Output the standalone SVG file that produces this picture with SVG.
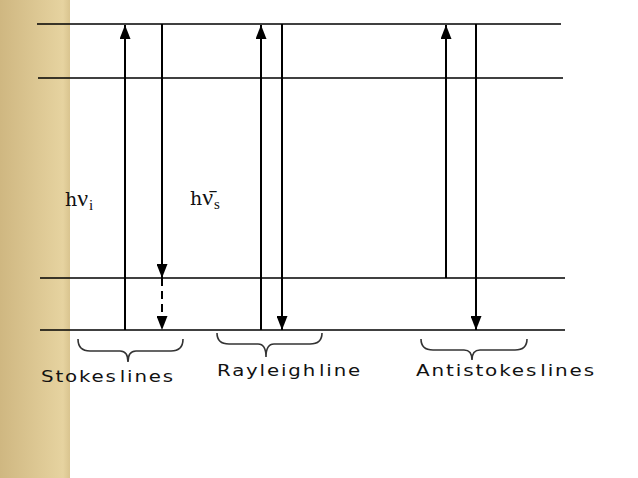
<svg xmlns="http://www.w3.org/2000/svg" width="638" height="478" viewBox="0 0 638 478">
<style>
.lvl{stroke:#000;stroke-width:1.5;fill:none}
.ar{stroke:#000;stroke-width:2;fill:none}
.br{stroke:#333;stroke-width:1.6;fill:none}
.lab{font-family:"DejaVu Sans","Liberation Sans",sans-serif;font-size:16px;fill:#111;letter-spacing:1.5px;word-spacing:-5px}
.sym{font-family:"DejaVu Serif","Liberation Serif",serif;font-size:19px;fill:#111}
.nu{font-family:"Liberation Serif","DejaVu Serif",serif;font-size:24px}
.sub{font-family:"Liberation Serif","DejaVu Serif",serif;font-size:15px}
</style>
<defs>
<linearGradient id="bandfill" x1="0" y1="0" x2="1" y2="0">
<stop offset="0" stop-color="#cfb781"/>
<stop offset="0.9" stop-color="#e6d3a0"/>
<stop offset="1" stop-color="#d9c48f"/>
</linearGradient>
<marker id="ah" viewBox="0 0 14 11" refX="14" refY="5.5" markerWidth="14" markerHeight="11" markerUnits="userSpaceOnUse" orient="auto">
<path d="M0,0 L14,5.5 L0,11 Z" fill="#000"/>
</marker>
</defs>
<rect width="638" height="478" fill="#fff"/>
<rect id="band" x="0" y="0" width="70" height="478" fill="url(#bandfill)"/>
<g id="levels">
<line class="lvl" x1="37" y1="24" x2="561" y2="24"/>
<line class="lvl" x1="38" y1="78" x2="563" y2="78"/>
<line class="lvl" x1="40" y1="278" x2="565" y2="278"/>
<line class="lvl" x1="40" y1="330" x2="565" y2="330"/>
</g>
<g id="connectors">
<line class="ar" x1="125" y1="330" x2="125" y2="25" marker-end="url(#ah)"/>
<line class="ar" x1="162" y1="24" x2="162" y2="278" marker-end="url(#ah)"/>
<line class="ar" x1="162" y1="278" x2="162" y2="330" stroke-dasharray="8,5" marker-end="url(#ah)"/>
<line class="ar" x1="261" y1="330" x2="261" y2="25" marker-end="url(#ah)"/>
<line class="ar" x1="282" y1="24" x2="282" y2="330" marker-end="url(#ah)"/>
<line class="ar" x1="446" y1="278" x2="446" y2="25" marker-end="url(#ah)"/>
<line class="ar" x1="476" y1="24" x2="476" y2="330" marker-end="url(#ah)"/>
</g>
<g id="stokes">
<path class="br" d="M78,339 Q78,351 90,351 L120,351 Q128,351 128,362 Q128,351 136,351 L171,351 Q183,351 183,339"/>
<text class="lab" x="41" y="382" textLength="134" lengthAdjust="spacingAndGlyphs">Stokes lines</text>
</g>
<g id="rayleigh">
<path class="br" d="M217,333 Q217,344 229,344 L258,344 Q266,344 266,357 Q266,344 274,344 L310,344 Q322,344 322,333"/>
<text class="lab" x="217" y="376" textLength="145" lengthAdjust="spacingAndGlyphs">Rayleigh line</text>
</g>
<g id="antistokes">
<path class="br" d="M421,339 Q421,350 433,350 L464,350 Q472,350 472,360 Q472,350 480,350 L515,350 Q527,350 527,339"/>
<text class="lab" x="416" y="376" textLength="180" lengthAdjust="spacingAndGlyphs">Antistokes lines</text>
</g>
<g id="hvi">
<text class="sym" x="65" y="206">h<tspan class="nu">ν</tspan><tspan class="sub" dx="1" dy="4">i</tspan></text>
</g>
<g id="hvs">
<text class="sym" x="190" y="205">h<tspan class="nu">ν̄</tspan><tspan class="sub" dx="1" dy="4">s</tspan></text>
</g>
</svg>
